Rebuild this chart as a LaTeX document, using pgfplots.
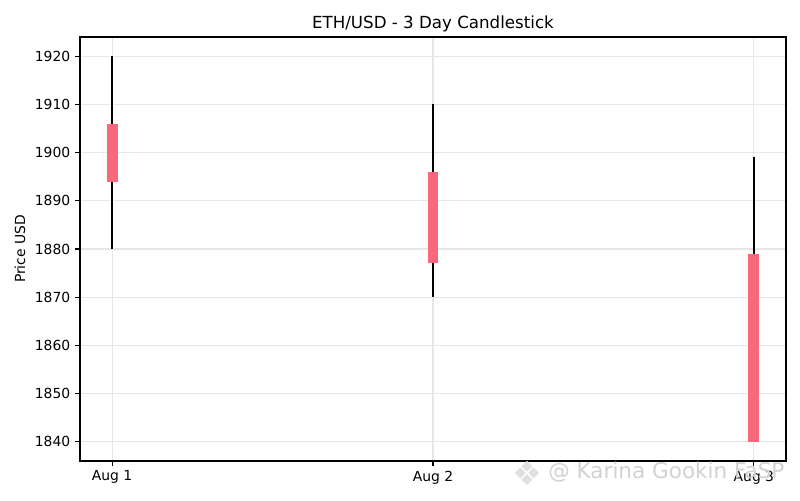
\documentclass[border=0pt]{standalone}
\usepackage{pgfplots}
\pgfplotsset{compat=1.18}
\usepackage{fontspec}
\setmainfont{DejaVu Sans}
\definecolor{candlered}{RGB}{246,104,122}
\definecolor{gridgray}{RGB}{230,230,230}

\begin{document}
\begin{tikzpicture}
\useasboundingbox (0,0) rectangle (576pt,360pt);
\begin{axis}[
  at={(57.6pt,28.1pt)}, anchor=south west,
  scale only axis, width=508.3pt, height=305.3pt,
  xmin=-0.1, xmax=2.1, ymin=1836, ymax=1924,
  xtick={0,1,2}, xticklabels={Aug 1,Aug 2,Aug 3},
  ytick={1840,1850,...,1920},
  xtick pos=bottom, ytick pos=left,
  /pgf/number format/1000 sep={},
  /pgf/number format/assume math mode=true,
  tick label style={font=\fontsize{10}{12}\selectfont},
  tick align=outside, major tick length=3.5pt,
  tick style={black, line width=0.8pt},
  axis line style={line width=0.8pt},
  grid=major, major grid style={gridgray, line width=0.8pt},
  ylabel={Price USD},
  ylabel style={at={(axis description cs:0,0.5)}, anchor=center, yshift=43.2pt, font=\fontsize{10}{12}\selectfont},
]
% wicks (low to high)
\addplot[black, line width=1.5pt, mark=none] coordinates {(0,1880) (0,1920)};
\addplot[black, line width=1.5pt, mark=none] coordinates {(1,1870) (1,1910)};
\addplot[black, line width=1.5pt, mark=none] coordinates {(2,1840) (2,1899)};
% bodies (close to open)
\addplot[candlered, line width=7.9pt, mark=none] coordinates {(0,1894) (0,1906)};
\addplot[candlered, line width=7.9pt, mark=none] coordinates {(1,1877) (1,1896)};
\addplot[candlered, line width=7.9pt, mark=none] coordinates {(2,1840) (2,1879)};
\end{axis}
\node[anchor=base, font=\fontsize{12}{14}\selectfont, inner sep=0pt] at (311.75pt,339.6pt) {ETH/USD - 3 Day Candlestick};
% watermark
\node[anchor=base west, text=gray!35, font=\fontsize{15.5}{18}\selectfont, inner sep=0pt] at (394.6pt,15.8pt) {@ Karina Gookin FaSP};
\node[text=gray!25, font=\fontsize{24}{26}\selectfont, inner sep=0pt] at (380pt,19.4pt) {❖};
\end{tikzpicture}
\end{document}
